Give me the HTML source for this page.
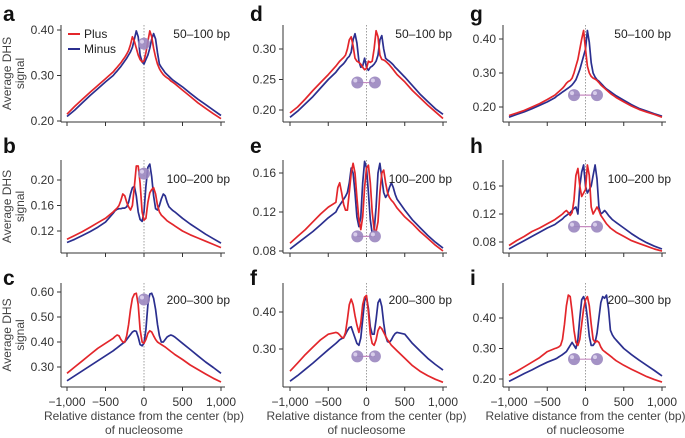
<!DOCTYPE html>
<html><head><meta charset="utf-8"><style>
html,body{margin:0;padding:0;background:#fff;}
svg{display:block;font-family:"Liberation Sans",Arial,sans-serif;}
</style></head><body>
<svg id="fig" width="685" height="438" viewBox="0 0 685 438"></svg>
<script>
const xs = [-1000,-900,-800,-700,-600,-500,-400,-375,-350,-325,-300,-275,-250,-225,-200,-175,-150,-125,-100,-75,-50,-25,0,25,50,75,100,125,150,175,200,225,250,275,300,325,350,375,400,500,600,700,800,900,1000];
const xTicks = [-1000,-500,0,500,1000];
const xTickLabels = ["\u22121,000","\u2212500","0","500","1,000"];
const aPlus = [.215,.232,.248,.263,.278,.293,.308,.313,.318,.323,.328,.334,.340,.347,.355,.368,.385,.375,.360,.345,.335,.330,.332,.350,.375,.398,.385,.360,.340,.325,.315,.308,.302,.298,.295,.292,.288,.285,.282,.268,.254,.240,.228,.216,.205];
const aMinus = [.210,.224,.240,.256,.271,.286,.300,.305,.310,.315,.320,.326,.332,.338,.345,.352,.362,.380,.398,.385,.345,.330,.325,.335,.345,.360,.380,.392,.380,.350,.325,.318,.312,.306,.302,.298,.294,.290,.287,.275,.261,.248,.236,.224,.212];
const bPlus = [.107,.113,.119,.126,.133,.140,.150,.153,.156,.160,.168,.178,.175,.165,.158,.153,.160,.190,.222,.222,.195,.150,.137,.140,.165,.180,.185,.188,.178,.160,.150,.145,.142,.139,.136,.134,.132,.130,.128,.120,.114,.109,.104,.099,.094];
const bMinus = [.102,.107,.113,.119,.126,.134,.148,.152,.154,.155,.155,.156,.156,.158,.165,.178,.188,.190,.175,.150,.138,.135,.150,.190,.220,.225,.205,.175,.155,.153,.160,.170,.178,.175,.165,.158,.155,.152,.150,.140,.131,.123,.115,.108,.101];
const cPlus = [.275,.300,.325,.350,.375,.395,.415,.422,.428,.425,.410,.400,.400,.425,.470,.530,.575,.592,.595,.550,.450,.400,.395,.410,.435,.445,.440,.425,.410,.400,.395,.390,.385,.380,.374,.368,.362,.356,.350,.330,.308,.290,.272,.255,.240];
const cMinus = [.245,.265,.285,.305,.325,.345,.365,.371,.377,.383,.389,.395,.400,.410,.420,.430,.440,.445,.443,.420,.390,.385,.395,.450,.550,.592,.595,.575,.530,.470,.425,.400,.400,.410,.420,.425,.428,.425,.420,.395,.370,.345,.320,.298,.275];
const dPlus = [.195,.205,.218,.232,.245,.258,.272,.276,.280,.283,.286,.290,.300,.315,.320,.305,.285,.280,.278,.275,.270,.266,.268,.280,.278,.280,.300,.330,.320,.290,.283,.282,.280,.277,.274,.270,.266,.262,.258,.246,.232,.220,.208,.197,.186];
const dMinus = [.188,.198,.210,.222,.236,.250,.262,.266,.270,.273,.276,.280,.285,.288,.295,.315,.325,.310,.280,.270,.272,.285,.270,.265,.270,.272,.275,.280,.290,.315,.322,.300,.285,.282,.280,.277,.274,.270,.267,.254,.240,.226,.214,.202,.193];
const ePlus = [.088,.095,.102,.110,.118,.125,.130,.145,.150,.140,.128,.122,.122,.140,.160,.170,.160,.135,.112,.102,.115,.145,.165,.168,.150,.120,.102,.100,.110,.140,.160,.163,.150,.140,.135,.132,.130,.127,.124,.115,.108,.100,.093,.086,.080];
const eMinus = [.082,.088,.094,.100,.107,.114,.120,.124,.127,.130,.133,.136,.140,.150,.165,.160,.140,.115,.105,.115,.150,.172,.165,.140,.112,.098,.100,.125,.160,.170,.155,.140,.135,.138,.145,.150,.145,.138,.133,.122,.112,.104,.096,.089,.083];
const fPlus = [.240,.262,.285,.305,.325,.340,.345,.343,.338,.332,.330,.345,.380,.420,.435,.420,.390,.365,.345,.370,.420,.440,.445,.400,.340,.315,.310,.325,.350,.360,.355,.345,.335,.325,.318,.310,.305,.300,.295,.275,.255,.240,.228,.218,.210];
const fMinus = [.213,.228,.245,.262,.280,.298,.315,.320,.325,.328,.330,.340,.350,.358,.360,.345,.330,.315,.310,.330,.380,.430,.440,.410,.360,.340,.340,.380,.425,.435,.415,.370,.335,.320,.318,.325,.335,.342,.345,.340,.315,.295,.275,.258,.243];
const gPlus = [.175,.182,.190,.200,.210,.222,.235,.240,.245,.250,.255,.262,.270,.275,.278,.285,.300,.320,.340,.370,.400,.425,.370,.320,.300,.290,.285,.282,.278,.272,.265,.260,.255,.250,.245,.240,.236,.232,.228,.215,.203,.193,.185,.178,.170];
const gMinus = [.170,.178,.186,.195,.205,.215,.227,.232,.236,.240,.244,.248,.252,.256,.260,.265,.272,.280,.295,.310,.330,.350,.370,.425,.390,.330,.300,.288,.280,.276,.270,.264,.258,.253,.249,.245,.241,.237,.233,.220,.207,.196,.188,.180,.173];
const hPlus = [.075,.082,.088,.095,.100,.106,.112,.114,.116,.118,.120,.123,.125,.122,.118,.122,.140,.175,.185,.160,.145,.150,.155,.190,.175,.130,.120,.125,.130,.125,.118,.114,.110,.106,.103,.100,.098,.096,.094,.088,.082,.078,.074,.070,.067];
const hMinus = [.070,.076,.082,.088,.094,.100,.105,.107,.109,.111,.113,.116,.118,.120,.122,.125,.128,.130,.120,.160,.180,.190,.160,.150,.155,.160,.175,.190,.170,.130,.120,.122,.125,.122,.118,.115,.112,.110,.108,.100,.092,.085,.079,.074,.070];
const iPlus = [.212,.225,.240,.255,.270,.290,.300,.302,.305,.310,.330,.380,.440,.475,.470,.420,.360,.320,.310,.330,.380,.430,.460,.470,.440,.380,.330,.320,.325,.320,.305,.295,.290,.285,.280,.275,.270,.265,.260,.245,.232,.220,.208,.198,.190];
const iMinus = [.192,.205,.218,.230,.243,.255,.265,.268,.272,.276,.280,.285,.290,.300,.310,.320,.310,.300,.330,.400,.460,.470,.450,.400,.340,.310,.310,.320,.350,.400,.450,.470,.465,.475,.430,.360,.345,.335,.328,.300,.280,.262,.245,.228,.210];
const aTicks=[0.20,0.30,0.40], bTicks=[0.12,0.16,0.20], cTicks=[0.30,0.40,0.50,0.60];
const dTicks=[0.20,0.25,0.30], eTicks=[0.08,0.12,0.16], fTicks=[0.30,0.40];
const gTicks=[0.20,0.30,0.40], hTicks=[0.08,0.12,0.16], iTicks=[0.20,0.30,0.40];

const NS="http://www.w3.org/2000/svg";
const svg=document.getElementById('fig');
function mk(tag,attrs,parent){const e=document.createElementNS(NS,tag);for(const k in attrs)e.setAttribute(k,attrs[k]);(parent||svg).appendChild(e);return e;}

const cols=[{ax:61,x0:67,x1:221,letterX:3},{ax:283,x0:290,x1:443,letterX:250},{ax:503,x0:509,x1:662,letterX:470}];
const rows=[{top:25,bot:122,letterY:21,labY:38,label:"50\u2013100 bp"},{top:160,bot:253,letterY:153,labY:183,label:"100\u2013200 bp"},{top:283,bot:387,letterY:285,labY:304,label:"200\u2013300 bp"}];
const panels=[
 {l:"a",c:0,r:0,plus:aPlus,minus:aMinus,ticks:aTicks,v0:.20,p0:121,v1:.40,p1:30,nuc:[[0,.37]]},
 {l:"b",c:0,r:1,plus:bPlus,minus:bMinus,ticks:bTicks,v0:.12,p0:231,v1:.20,p1:180,nuc:[[0,.21]]},
 {l:"c",c:0,r:2,plus:cPlus,minus:cMinus,ticks:cTicks,v0:.30,p0:367,v1:.60,p1:292,nuc:[[0,.57]]},
 {l:"d",c:1,r:0,plus:dPlus,minus:dMinus,ticks:dTicks,v0:.20,p0:110,v1:.30,p1:49,nuc:[[-120,.245],[110,.245]]},
 {l:"e",c:1,r:1,plus:ePlus,minus:eMinus,ticks:eTicks,v0:.08,p0:251,v1:.16,p1:173,nuc:[[-120,.095],[110,.095]]},
 {l:"f",c:1,r:2,plus:fPlus,minus:fMinus,ticks:fTicks,v0:.30,p0:349,v1:.40,p1:312,nuc:[[-120,.28],[110,.28]]},
 {l:"g",c:2,r:0,plus:gPlus,minus:gMinus,ticks:gTicks,v0:.20,p0:107,v1:.40,p1:39,nuc:[[-150,.235],[150,.235]]},
 {l:"h",c:2,r:1,plus:hPlus,minus:hMinus,ticks:hTicks,v0:.08,p0:242,v1:.16,p1:186,nuc:[[-150,.102],[150,.102]]},
 {l:"i",c:2,r:2,plus:iPlus,minus:iMinus,ticks:iTicks,v0:.20,p0:379,v1:.40,p1:318,nuc:[[-150,.265],[150,.265]]}
];
// y-axis titles
rows.forEach((rw,ri)=>{
 const cy=(rw.top+rw.bot)/2;
 const t=mk('text',{x:0,y:0,'font-size':12,fill:'#444','text-anchor':'middle',transform:`translate(11,${cy}) rotate(-90)`});
 
 
 const s1=mk('tspan',{x:0,dy:0},t);s1.textContent='Average DHS';
 const s2=mk('tspan',{x:0,dy:13},t);s2.textContent='signal';
});
panels.forEach(p=>{
 const col=cols[p.c], rw=rows[p.r];
 const g=mk('g',{});
 
 
 const X=v=>col.x0+(v+1000)/2000*(col.x1-col.x0);
 const Y=v=>p.p0+(v-p.v0)*(p.p1-p.p0)/(p.v1-p.v0);
 const lt=mk('text',{x:col.letterX,y:rw.letterY,'font-size':21,'font-weight':'bold',fill:'#111'},g);
 lt.textContent=p.l;
 
 
 const ya=mk('line',{x1:col.ax,y1:rw.top,x2:col.ax,y2:rw.bot,stroke:'#333','stroke-width':1},g);
 
 
 const xa=mk('line',{x1:col.ax,y1:rw.bot,x2:col.x1+4,y2:rw.bot,stroke:'#333','stroke-width':1},g);
 
 
 p.ticks.forEach(t=>{
  const y=Y(t);
  mk('line',{x1:col.ax-4,y1:y,x2:col.ax,y2:y,stroke:'#333'},g);
  const tl=mk('text',{x:col.ax-7,y:y+4,'font-size':12,fill:'#333','text-anchor':'end'},g);
  tl.textContent=t.toFixed(2);
  
  
 });
 xTicks.forEach((t,k)=>{
  const x=X(t);
  mk('line',{x1:x,y1:rw.bot,x2:x,y2:rw.bot+4,stroke:'#333'},g);
  if(p.r===2){
   const tl=mk('text',{x:x,y:rw.bot+19,'font-size':12,fill:'#333','text-anchor':'middle'},g);
   tl.textContent=xTickLabels[k];
   
   
  }
 });
 if(p.r===2){
  const cx=(col.x0+col.x1)/2;
  const t1=mk('text',{x:cx,y:420,'font-size':12,fill:'#444','text-anchor':'middle'},g);
  t1.textContent='Relative distance from the center (bp)';
  
  
  const t2=mk('text',{x:cx,y:434,'font-size':12,fill:'#444','text-anchor':'middle'},g);
  t2.textContent='of nucleosome';
  
  
 }
 mk('line',{x1:X(0),y1:rw.top,x2:X(0),y2:rw.bot,stroke:'#888','stroke-width':0.8,'stroke-dasharray':'1.5,1.5'},g);
 const path=arr=>arr.map((v,k)=>(k?'L':'M')+X(xs[k]).toFixed(1)+','+Y(v).toFixed(1)).join('');
 const pm=mk('path',{d:path(p.minus),fill:'none',stroke:'#2b2f8f','stroke-width':1.7,'stroke-linejoin':'round'},g);
 
 
 const pp=mk('path',{d:path(p.plus),fill:'none',stroke:'#e3262b','stroke-width':1.7,'stroke-linejoin':'round'},g);
 
 
 if(p.nuc.length===2){
  mk('line',{x1:X(p.nuc[0][0]),y1:Y(p.nuc[0][1]),x2:X(p.nuc[1][0]),y2:Y(p.nuc[1][1]),stroke:'#c78bc0','stroke-width':1.2},g);
 }
 p.nuc.forEach(n=>{
  const c=mk('circle',{cx:X(n[0]),cy:Y(n[1]),r:6,fill:'#9a86bf',opacity:0.9},g);
  
  
  mk('circle',{cx:X(n[0])-2,cy:Y(n[1])-2,r:2,fill:'#d8cdea'},g);
 });
 const sl=mk('text',{x:col.x1+9,y:rw.labY,'font-size':12,fill:'#222','text-anchor':'end'},g);
 sl.textContent=rw.label;
 
 
});
const lg=mk('g',{});


mk('line',{x1:68,y1:34,x2:80,y2:34,stroke:'#e3262b','stroke-width':2},lg);
const l1=mk('text',{x:84,y:38,'font-size':12,fill:'#222'},lg);l1.textContent='Plus';


mk('line',{x1:68,y1:49,x2:80,y2:49,stroke:'#2b2f8f','stroke-width':2},lg);
const l2=mk('text',{x:84,y:53,'font-size':12,fill:'#222'},lg);l2.textContent='Minus';


</script>
</body></html>
